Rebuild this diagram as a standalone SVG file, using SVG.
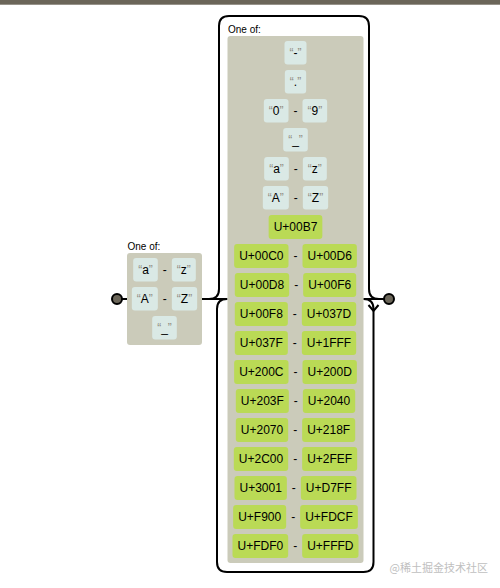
<svg xmlns="http://www.w3.org/2000/svg" width="500" height="588" viewBox="0 0 500 588">
<style>
text{font-family:"Liberation Sans",Arial,sans-serif;font-size:12px;fill:#000}
.lbl{font-size:10px}
.q{fill:#908c83}
.cs{fill:#cbcbba}
.lit{fill:#dae9e5}
.uni{fill:#bada55}
.conn{fill:none;stroke:#000;stroke-width:2}
.pt{fill:#6b6659;stroke:#000;stroke-width:2}
.wm{font-family:"Noto Sans CJK SC","Liberation Sans",sans-serif;font-size:11px;fill:#c0c0c0}
</style>
<rect x="0" y="0" width="500" height="4.7" fill="#6b6659"/>
<g id="connectors">
<path class="conn" d="M122,299 H127 M202,299 H227.5 M363.5,299 H384"/>
<path class="conn" d="M209,299 q10,0 10,-10 V26 q0,-10 10,-10 H359 q10,0 10,10 V289 q0,10 10,10"/>
<path class="conn" d="M363.5,299 q10,0 10,10 V562 q0,10 -10,10 H227 q-10,0 -10,-10 V309 q0,-10 10,-10"/>
<path class="conn" d="M368.5,305 L373.5,311 L378.5,305"/>
</g>
<g id="start"><circle class="pt" cx="117" cy="299" r="5"/></g>
<g id="end"><circle class="pt" cx="389" cy="299" r="5"/></g>
<g id="charset1">
<text class="lbl" x="127.5" y="250">One of:</text>
<rect class="cs" x="127" y="253" width="75" height="92" rx="3"/>
<rect class="lit" x="133.17" y="258" width="24.66" height="23.5" rx="3"/>
<text x="145.5" y="274" text-anchor="middle"><tspan class="q">“</tspan>a<tspan class="q">”</tspan></text>
<text x="164.83" y="274" text-anchor="middle">-</text>
<rect class="lit" x="171.83" y="258" width="23.99" height="23.5" rx="3"/>
<text x="183.83" y="274" text-anchor="middle"><tspan class="q">“</tspan>z<tspan class="q">”</tspan></text>
<rect class="lit" x="131.84" y="287" width="26" height="23.5" rx="3"/>
<text x="144.84" y="303" text-anchor="middle"><tspan class="q">“</tspan>A<tspan class="q">”</tspan></text>
<text x="164.84" y="303" text-anchor="middle">-</text>
<rect class="lit" x="171.84" y="287" width="25.32" height="23.5" rx="3"/>
<text x="184.5" y="303" text-anchor="middle"><tspan class="q">“</tspan>Z<tspan class="q">”</tspan></text>
<rect class="lit" x="152.17" y="316" width="24.66" height="23.5" rx="3"/>
<text x="164.5" y="332" text-anchor="middle"><tspan class="q">“</tspan>_<tspan class="q">”</tspan></text>
</g>
<g id="charset2">
<text class="lbl" x="228" y="33">One of:</text>
<rect class="cs" x="227.5" y="36" width="136" height="527" rx="3"/>
<rect class="lit" x="284.5" y="41" width="22" height="23.5" rx="3"/>
<text x="295.5" y="57" text-anchor="middle"><tspan class="q">“</tspan>-<tspan class="q">”</tspan></text>
<rect class="lit" x="284.84" y="70" width="21.33" height="23.5" rx="3"/>
<text x="295.5" y="86" text-anchor="middle"><tspan class="q">“</tspan>.<tspan class="q">”</tspan></text>
<rect class="lit" x="263.84" y="99" width="24.66" height="23.5" rx="3"/>
<text x="276.17" y="115" text-anchor="middle"><tspan class="q">“</tspan>0<tspan class="q">”</tspan></text>
<text x="295.5" y="115" text-anchor="middle">-</text>
<rect class="lit" x="302.5" y="99" width="24.66" height="23.5" rx="3"/>
<text x="314.83" y="115" text-anchor="middle"><tspan class="q">“</tspan>9<tspan class="q">”</tspan></text>
<rect class="lit" x="283.17" y="128" width="24.66" height="23.5" rx="3"/>
<text x="295.5" y="144" text-anchor="middle"><tspan class="q">“</tspan>_<tspan class="q">”</tspan></text>
<rect class="lit" x="264.18" y="157" width="24.66" height="23.5" rx="3"/>
<text x="276.51" y="173" text-anchor="middle"><tspan class="q">“</tspan>a<tspan class="q">”</tspan></text>
<text x="295.84" y="173" text-anchor="middle">-</text>
<rect class="lit" x="302.84" y="157" width="23.99" height="23.5" rx="3"/>
<text x="314.84" y="173" text-anchor="middle"><tspan class="q">“</tspan>z<tspan class="q">”</tspan></text>
<rect class="lit" x="262.84" y="186" width="26" height="23.5" rx="3"/>
<text x="275.84" y="202" text-anchor="middle"><tspan class="q">“</tspan>A<tspan class="q">”</tspan></text>
<text x="295.84" y="202" text-anchor="middle">-</text>
<rect class="lit" x="302.84" y="186" width="25.32" height="23.5" rx="3"/>
<text x="315.5" y="202" text-anchor="middle"><tspan class="q">“</tspan>Z<tspan class="q">”</tspan></text>
<rect class="uni" x="268.65" y="215" width="53.69" height="24" rx="3"/>
<text x="295.5" y="231" text-anchor="middle">U+00B7</text>
<rect class="uni" x="234.15" y="244" width="54.35" height="24" rx="3"/>
<text x="261.33" y="260" text-anchor="middle">U+00C0</text>
<text x="295.5" y="260" text-anchor="middle">-</text>
<rect class="uni" x="302.5" y="244" width="54.35" height="24" rx="3"/>
<text x="329.68" y="260" text-anchor="middle">U+00D6</text>
<rect class="uni" x="234.82" y="273" width="54.35" height="24" rx="3"/>
<text x="262" y="289" text-anchor="middle">U+00D8</text>
<text x="296.17" y="289" text-anchor="middle">-</text>
<rect class="uni" x="303.17" y="273" width="53.02" height="24" rx="3"/>
<text x="329.68" y="289" text-anchor="middle">U+00F6</text>
<rect class="uni" x="234.82" y="302" width="53.02" height="24" rx="3"/>
<text x="261.33" y="318" text-anchor="middle">U+00F8</text>
<text x="294.84" y="318" text-anchor="middle">-</text>
<rect class="uni" x="301.84" y="302" width="54.35" height="24" rx="3"/>
<text x="329.02" y="318" text-anchor="middle">U+037D</text>
<rect class="uni" x="234.82" y="331" width="53.02" height="24" rx="3"/>
<text x="261.33" y="347" text-anchor="middle">U+037F</text>
<text x="294.84" y="347" text-anchor="middle">-</text>
<rect class="uni" x="301.84" y="331" width="54.34" height="24" rx="3"/>
<text x="329.01" y="347" text-anchor="middle">U+1FFF</text>
<rect class="uni" x="234.15" y="360" width="54.35" height="24" rx="3"/>
<text x="261.33" y="376" text-anchor="middle">U+200C</text>
<text x="295.5" y="376" text-anchor="middle">-</text>
<rect class="uni" x="302.5" y="360" width="54.35" height="24" rx="3"/>
<text x="329.68" y="376" text-anchor="middle">U+200D</text>
<rect class="uni" x="235.81" y="389" width="53.02" height="24" rx="3"/>
<text x="262.32" y="405" text-anchor="middle">U+203F</text>
<text x="295.83" y="405" text-anchor="middle">-</text>
<rect class="uni" x="302.83" y="389" width="52.36" height="24" rx="3"/>
<text x="329.01" y="405" text-anchor="middle">U+2040</text>
<rect class="uni" x="235.81" y="418" width="52.36" height="24" rx="3"/>
<text x="261.99" y="434" text-anchor="middle">U+2070</text>
<text x="295.17" y="434" text-anchor="middle">-</text>
<rect class="uni" x="302.17" y="418" width="53.02" height="24" rx="3"/>
<text x="328.68" y="434" text-anchor="middle">U+218F</text>
<rect class="uni" x="233.82" y="447" width="54.35" height="24" rx="3"/>
<text x="261" y="463" text-anchor="middle">U+2C00</text>
<text x="295.17" y="463" text-anchor="middle">-</text>
<rect class="uni" x="302.17" y="447" width="55.01" height="24" rx="3"/>
<text x="329.68" y="463" text-anchor="middle">U+2FEF</text>
<rect class="uni" x="234.49" y="476" width="52.36" height="24" rx="3"/>
<text x="260.67" y="492" text-anchor="middle">U+3001</text>
<text x="293.85" y="492" text-anchor="middle">-</text>
<rect class="uni" x="300.85" y="476" width="55.67" height="24" rx="3"/>
<text x="328.69" y="492" text-anchor="middle">U+D7FF</text>
<rect class="uni" x="233.16" y="505" width="53.02" height="24" rx="3"/>
<text x="259.67" y="521" text-anchor="middle">U+F900</text>
<text x="293.18" y="521" text-anchor="middle">-</text>
<rect class="uni" x="300.18" y="505" width="57.66" height="24" rx="3"/>
<text x="329.01" y="521" text-anchor="middle">U+FDCF</text>
<rect class="uni" x="232.5" y="534" width="55.67" height="24" rx="3"/>
<text x="260.34" y="550" text-anchor="middle">U+FDF0</text>
<text x="295.17" y="550" text-anchor="middle">-</text>
<rect class="uni" x="302.17" y="534" width="56.33" height="24" rx="3"/>
<text x="330.34" y="550" text-anchor="middle">U+FFFD</text>
</g>
<text class="wm" x="389.5" y="572">@稀土掘金技术社区</text>
</svg>
